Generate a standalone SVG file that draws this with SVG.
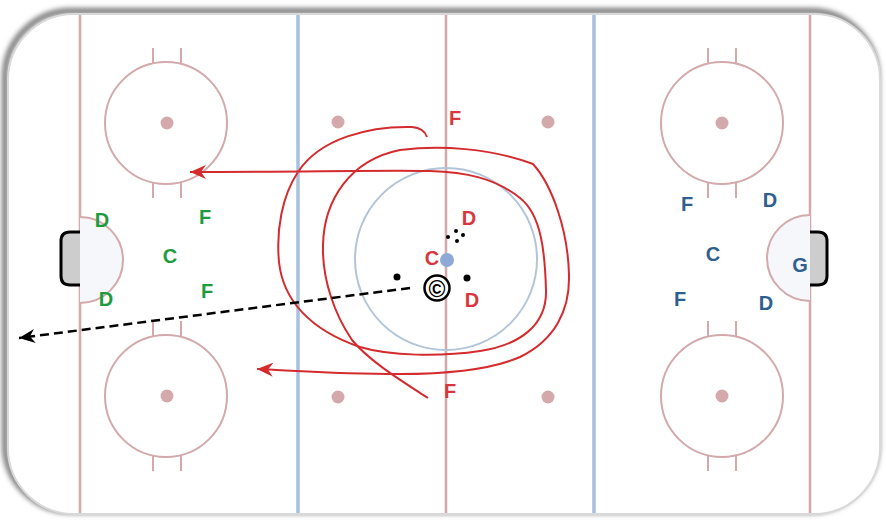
<svg xmlns="http://www.w3.org/2000/svg" width="886" height="525" viewBox="0 0 886 525">
<defs>
<style>
.rl{stroke:#d3a9ab;stroke-width:2.5;fill:none}
.bl{stroke:#a9c0dc;stroke-width:3.5;fill:none}
.fc{stroke:#d3a9ab;stroke-width:2;fill:none}
.hm{stroke:#d3a9ab;stroke-width:2;fill:none}
.fd{fill:#d3a9ab}
.tx{font-family:"Liberation Sans",Arial,sans-serif;font-weight:bold;font-size:20px;text-anchor:middle}
.g{fill:#1e9b3c}
.b{fill:#2f5f8f}
.r{fill:#d7373d}
.rp{stroke:#d42b2e;stroke-width:2;fill:none;marker-end:url(#ra)}
.net{fill:#cdcdcd;stroke:#000;stroke-width:3}
</style>
<filter id="sh" x="-5%" y="-5%" width="110%" height="110%">
<feGaussianBlur stdDeviation="2.5"/>
</filter>
<marker id="ra" markerUnits="userSpaceOnUse" markerWidth="18" markerHeight="14" refX="16" refY="7" orient="auto">
<path d="M0,0 L16,7 L0,14 L5,7 Z" fill="#d42b2e"/>
</marker>
<marker id="ka" markerUnits="userSpaceOnUse" markerWidth="18" markerHeight="14" refX="16" refY="7" orient="auto">
<path d="M0,0 L16,7 L0,14 L5,7 Z" fill="#000"/>
</marker>
</defs>

<g id="rink">
<rect x="8" y="14" width="872" height="500" rx="66" fill="none" stroke="#7a7a7a" stroke-width="6" filter="url(#sh)" transform="translate(-3,-3)"/>
<rect x="8" y="14" width="872" height="500" rx="66" fill="#fff" stroke="#d9d9d9" stroke-width="2"/>
</g>

<g id="lines">
<line class="rl" x1="80" y1="15" x2="80" y2="513"/>
<line class="rl" x1="810" y1="15" x2="810" y2="513"/>
<line class="bl" x1="298" y1="15" x2="298" y2="513"/>
<line class="bl" x1="594" y1="15" x2="594" y2="513"/>
<line class="rl" x1="446" y1="15" x2="446" y2="513" stroke-width="3.5"/>
</g>

<g id="faceoff-circles">
<g id="fc-lt">
<circle class="fc" cx="166" cy="123" r="61"/>
<circle class="fd" cx="167" cy="123" r="6.5"/>
<path class="hm" d="M153,48V63M181,48V63M153,183V198M181,183V198"/>
</g>
<g id="fc-lb">
<circle class="fc" cx="166" cy="396" r="61"/>
<circle class="fd" cx="167" cy="396" r="6.5"/>
<path class="hm" d="M153,321V336M181,321V336M153,456V471M181,456V471"/>
</g>
<g id="fc-rt">
<circle class="fc" cx="722" cy="123" r="61"/>
<circle class="fd" cx="722" cy="123" r="6.5"/>
<path class="hm" d="M708,48V63M736,48V63M708,183V198M736,183V198"/>
</g>
<g id="fc-rb">
<circle class="fc" cx="722" cy="396" r="61"/>
<circle class="fd" cx="722" cy="396" r="6.5"/>
<path class="hm" d="M708,321V336M736,321V336M708,456V471M736,456V471"/>
</g>
</g>

<g id="neutral-dots">
<circle class="fd" cx="338" cy="122" r="6.5"/>
<circle class="fd" cx="548" cy="122" r="6.5"/>
<circle class="fd" cx="338" cy="397" r="6.5"/>
<circle class="fd" cx="548" cy="397" r="6.5"/>
</g>

<g id="center-circle">
<circle cx="446" cy="259" r="91" fill="none" stroke="#b3c4d8" stroke-width="2"/>
<circle cx="447" cy="260" r="7" fill="#8ea9d6"/>
</g>

<g id="left-goal">
<path d="M80,217 A43,43 0 0 1 80,303" fill="#f5f7fb" stroke="#d3a9ab" stroke-width="2"/>
<path class="net" d="M80,232 H70 Q61,232 61,241 V276 Q61,285 70,285 H80"/>
</g>
<g id="right-goal">
<path d="M810,215 A43,43 0 0 0 810,301" fill="#f5f7fb" stroke="#d3a9ab" stroke-width="2"/>
<path class="net" d="M810,232 H818 Q827,232 827,241 V276 Q827,285 818,285 H810"/>
</g>

<g id="connectors">
<path id="path-a" class="rp" d="M427,137 Q424,128 412,127 C370,126 320,138 298,172 C282,196 276,230 279,262 C283,300 310,330 360,347 C390,356 440,357 480,351 C520,345 547,325 546,290 C545,255 542,215 520,198 C495,178 465,172 430,171 C380,170 300,172 190,172"/>
<path id="path-b" class="rp" d="M428,398 C405,383 370,362 352,340 C335,315 322,280 323,245 C324,200 350,160 400,150 C440,145 490,148 533,164 C552,185 568,230 569,275 C570,310 555,340 520,357 C490,370 450,374 400,374 C340,374 300,371 257,369"/>
<path id="pass" d="M410,288 L19,338" stroke="#000" stroke-width="2.5" stroke-dasharray="9,5" fill="none" marker-end="url(#ka)"/>
</g>

<g id="puck">
<circle cx="437" cy="288" r="12.5" fill="#fff" stroke="#000" stroke-width="2.5"/>
<text x="437" y="296.5" font-family="'Liberation Sans',Arial,sans-serif" font-weight="bold" font-size="23" text-anchor="middle" fill="#000">©</text>
</g>
<g id="markers">
<circle cx="397" cy="277" r="3.5" fill="#000"/>
<circle cx="467" cy="278" r="3.5" fill="#000"/>
<circle cx="448" cy="237" r="2" fill="#000"/>
<circle cx="456" cy="231" r="2" fill="#000"/>
<circle cx="463" cy="235" r="2" fill="#000"/>
<circle cx="457" cy="241" r="2" fill="#000"/>
</g>

<g id="green-team" class="tx g">
<text x="102" y="227">D</text>
<text x="205" y="224">F</text>
<text x="170" y="263">C</text>
<text x="106" y="306">D</text>
<text x="207" y="298">F</text>
</g>
<g id="blue-team" class="tx b">
<text x="687" y="211">F</text>
<text x="770" y="207">D</text>
<text x="713" y="261">C</text>
<text x="800" y="272">G</text>
<text x="680" y="306">F</text>
<text x="766" y="310">D</text>
</g>
<g id="red-team" class="tx r">
<text x="455" y="125">F</text>
<text x="469" y="225">D</text>
<text x="432" y="265">C</text>
<text x="472" y="307">D</text>
<text x="450" y="398">F</text>
</g>
</svg>
